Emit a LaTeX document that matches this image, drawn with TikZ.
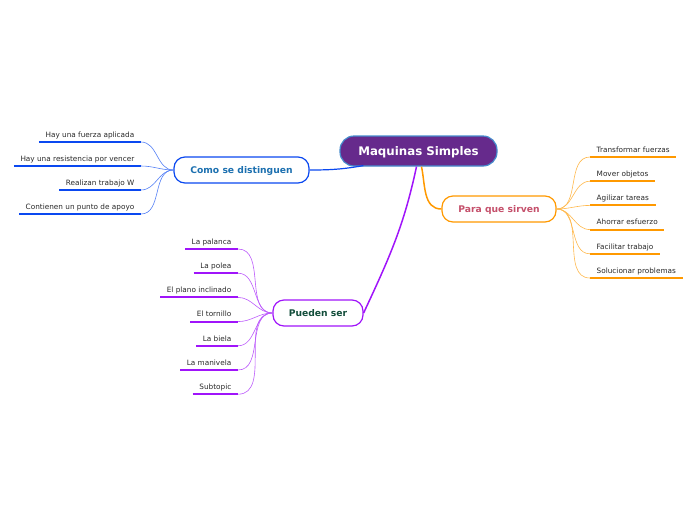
\documentclass[tikz,border=0pt]{standalone}
\usepackage{fontspec}
\setmainfont{DejaVu Sans}
\usetikzlibrary{positioning}

\definecolor{mainfill}{RGB}{102,42,140}
\definecolor{mainedge}{RGB}{70,140,205}
\definecolor{comoblue}{RGB}{10,72,240}
\definecolor{comotext}{RGB}{28,112,176}
\definecolor{paraorange}{RGB}{255,153,0}
\definecolor{paratext}{RGB}{197,80,107}
\definecolor{puedpurple}{RGB}{160,20,250}
\definecolor{puedtext}{RGB}{18,77,58}
\definecolor{leaftext}{RGB}{40,40,40}

\begin{document}
\begin{tikzpicture}[x=1pt,y=-1pt,
    topic/.style={rounded corners=11pt, fill=white, line width=1.2pt, minimum height=26pt,
                  inner xsep=2pt, text depth=0pt, font=\fontsize{9.2}{11}\selectfont\bfseries},
    leaf/.style={font=\fontsize{7.3}{9}\selectfont, text=leaftext, inner xsep=6.5pt, inner ysep=3pt,
                 text height=5.5pt, text depth=1.5pt},
    line/.style={line width=2pt}]
  \useasboundingbox (0,0) rectangle (696,520);

  \node[topic, draw=mainedge, fill=mainfill, text=white, minimum height=30pt, minimum width=157pt,
        rounded corners=14pt, font=\fontsize{11.8}{13}\selectfont\bfseries] (main) at (418.5,151) {Maquinas Simples};
  \node[topic, draw=comoblue, text=comotext, minimum width=135pt] (como) at (241.5,170) {Como se distinguen};
  \node[topic, draw=paraorange, text=paratext, minimum width=114pt] (para) at (499,209) {Para que sirven};
  \node[topic, draw=puedpurple, text=puedtext, minimum width=90pt] (pueden) at (318,313) {Pueden ser};

  % Como se distinguen
  \node[leaf, anchor=south east] (c_1) at (141,142) {Hay una fuerza aplicada};
  \node[leaf, below=24pt of c_1.south east, anchor=south east] (c_2) {Hay una resistencia por vencer};
  \node[leaf, below=24pt of c_2.south east, anchor=south east] (c_3) {Realizan trabajo W};
  \node[leaf, below=24pt of c_3.south east, anchor=south east] (c_4) {Contienen un punto de apoyo};

  % Para que sirven
  \node[leaf, anchor=south west] (p_1) at (590,157) {Transformar fuerzas};
  \node[leaf, below=24.2pt of p_1.south west, anchor=south west] (p_2) {Mover objetos};
  \node[leaf, below=24.2pt of p_2.south west, anchor=south west] (p_3) {Agilizar tareas};
  \node[leaf, below=24.2pt of p_3.south west, anchor=south west] (p_4) {Ahorrar esfuerzo};
  \node[leaf, below=24.2pt of p_4.south west, anchor=south west] (p_5) {Facilitar trabajo};
  \node[leaf, below=24.2pt of p_5.south west, anchor=south west] (p_6) {Solucionar problemas};

  % Pueden ser
  \node[leaf, anchor=south east] (s_1) at (238,249) {La palanca};
  \node[leaf, below=24.2pt of s_1.south east, anchor=south east] (s_2) {La polea};
  \node[leaf, below=24.2pt of s_2.south east, anchor=south east] (s_3) {El plano inclinado};
  \node[leaf, below=24.2pt of s_3.south east, anchor=south east] (s_4) {El tornillo};
  \node[leaf, below=24.2pt of s_4.south east, anchor=south east] (s_5) {La biela};
  \node[leaf, below=24.2pt of s_5.south east, anchor=south east] (s_6) {La manivela};
  \node[leaf, below=24.2pt of s_6.south east, anchor=south east] (s_7) {Subtopic};

  % underlines
  \foreach \n in {c_1,c_2,c_3,c_4}
    \draw[line, comoblue] (\n.south west) -- (\n.south east);
  \foreach \n in {p_1,p_2,p_3,p_4,p_5,p_6}
    \draw[line, paraorange] (\n.south west) -- (\n.south east);
  \foreach \n in {s_1,s_2,s_3,s_4,s_5,s_6,s_7}
    \draw[line, puedpurple] (\n.south west) -- (\n.south east);

  % branches
  \draw[comoblue, line width=1.2pt] (main.south west) ++(24,-1) coordinate (m_c) to[out=190,in=0] (como.east);
  \draw[paraorange, line width=1.5pt] (main.south) ++(3,0) coordinate (m_p) to[out=-78,in=180] (para.west);
  \draw[puedpurple, line width=1.5pt] (main.south) ++(-2,0) coordinate (m_s) to[out=-102,in=65] (pueden.east);

  \foreach \n in {c_1,c_2,c_3,c_4}
    \draw[comoblue!70, line width=0.6pt] (como.west) to[out=180,in=0] (\n.south east);
  \foreach \n in {p_1,p_2,p_3,p_4,p_5,p_6}
    \draw[paraorange!70, line width=0.6pt] (para.east) to[out=0,in=180] (\n.south west);
  \foreach \n in {s_1,s_2,s_3,s_4,s_5,s_6,s_7}
    \draw[puedpurple!70, line width=0.6pt] (pueden.west) to[out=180,in=0] (\n.south east);
\end{tikzpicture}
\end{document}
